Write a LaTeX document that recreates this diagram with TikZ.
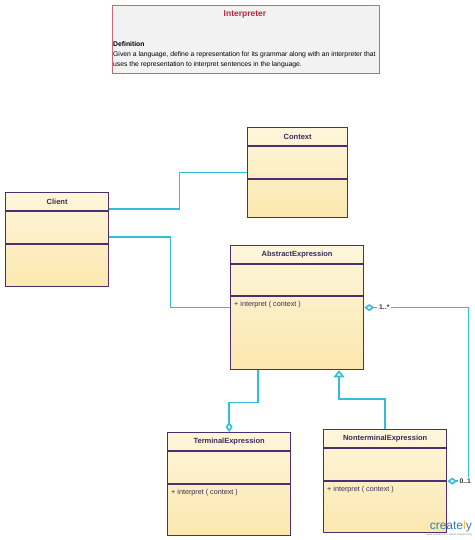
\documentclass[tikz,border=0pt]{standalone}
\usepackage{fontspec}
\setmainfont{Liberation Sans}
\usetikzlibrary{calc,arrows.meta}
\definecolor{umlborder}{HTML}{4B2F6E}
\definecolor{umltop}{HTML}{FDF6DC}
\definecolor{umlbottom}{HTML}{FCE7AE}
\definecolor{umltext}{HTML}{3A2A55}
\definecolor{linkcyan}{HTML}{35BCD9}
\definecolor{noteborder}{HTML}{C46A78}
\definecolor{notefill}{HTML}{F2F2F2}
\definecolor{notetitle}{HTML}{B02A3E}
\definecolor{logoblue}{HTML}{2E7DB8}
\definecolor{logoyellow}{HTML}{E8B83A}

\tikzset{
	classbox/.style={draw=umlborder, line width=1.3pt, top color=umltop, bottom color=umlbottom, inner sep=0pt},
	classline/.style={draw=umlborder, line width=1.3pt},
	classtitle/.style={font=\fontsize{7.5}{9}\selectfont\bfseries, text=umltext},
	opstext/.style={font=\fontsize{7.2}{8}\selectfont, text=umltext, inner sep=0pt},
	link/.style={draw=linkcyan, line width=1.6pt},
	mult/.style={font=\fontsize{6.8}{8}\selectfont\bfseries, text=black!80, fill=white, inner sep=2pt},
	notebox/.style={draw=noteborder, fill=notefill, line width=0.8pt, inner sep=0pt}
}

% name, x, y, width, height, head, divider, title, operations
\newcommand{\umlclass}[9]{%
	\node[classbox, anchor=north west, minimum width=#4pt, minimum height=#5pt] (#1) at (#2,#3) {};
	\draw[classline] ($(#1.north west)+(0,#6)$) -- ($(#1.north east)+(0,#6)$);
	\draw[classline] ($(#1.north west)+(0,#7)$) -- ($(#1.north east)+(0,#7)$);
	\node[classtitle] (#1-title) at ($(#1.north)+(0,#6/2)$) {#8};
	\node[opstext, anchor=north west] (#1-ops) at ($(#1.north west)+(4,#7+5)$) {#9};
}

\begin{document}
\begin{tikzpicture}[x=1pt, y=-1pt]
	%%%%% START %%%%%
	\useasboundingbox (0,0) rectangle (474,540);
	
	% definition note
	\node[notebox, anchor=north west, minimum width=267pt, minimum height=68pt] (note) at (112,5) {};
	\node[font=\fontsize{8.5}{10}\selectfont\bfseries, text=notetitle] (notetitle) at (245,14) {Interpreter};
	\node[font=\fontsize{6.8}{8}\selectfont\bfseries, anchor=west, inner sep=1pt] (defhead) at (112,44) {Definition};
	\node[font=\fontsize{6.8}{10}\selectfont, anchor=north west, align=left, inner sep=1pt] (deftext) at (112,50)
		{Given a language, define a representation for its grammar along with an interpreter that\\uses the representation to interpret sentences in the language.};
	
	% classes
	\umlclass{context}{247}{127}{100}{90}{19}{52}{Context}{}
	\umlclass{client}{5}{192}{103}{94}{19}{52}{Client}{}
	\umlclass{abstract}{230}{245}{133}{124}{19}{51}{AbstractExpression}{+ interpret ( context )}
	\umlclass{terminal}{167}{432}{123}{103}{19}{52}{TerminalExpression}{+ interpret ( context )}
	\umlclass{nonterm}{323}{429}{123}{103}{19}{52}{NonterminalExpression}{+ interpret ( context )}
	
	% links
	\draw[link] ($(client.north east)+(0,17)$) -- ++(70,0) |- (context.west);
	\draw[link] ($(client.north east)+(0,45)$) -- ++(61,0) |- (abstract.west);
	\draw[link, -{Diamond[open, length=10pt, width=7pt]}] ($(abstract.south west)+(28,0)$) -- ++(0,32) -| (terminal.north);
	\draw[link, -{Triangle[open, length=7pt, width=11pt]}] (nonterm.north) -- ++(0,-30) -| ($(abstract.south west)+(109,0)$);
	\draw[link, {Diamond[open, length=10pt, width=7pt]}-{Diamond[open, length=10pt, width=7pt]}] (abstract.east) -- ++(104,0) |- (nonterm.east);
	\node[mult] (many) at ($(abstract.east)+(20,0)$) {1..*};
	\node[mult] (opt) at ($(nonterm.east)+(18,0)$) {0..1};
	
	% watermark
	\node[font=\fontsize{12}{13}\selectfont, text=logoblue, anchor=south east, inner sep=0pt] (logo) at (472,532) {create\textcolor{logoyellow}{l}y};
	\node[font=\fontsize{2.5}{3}\selectfont, text=gray, anchor=north east, inner sep=0pt] (logosub) at (472,533) {www.creately.com • Online Diagramming};
	%%%%% END %%%%%
\end{tikzpicture}
\end{document}
